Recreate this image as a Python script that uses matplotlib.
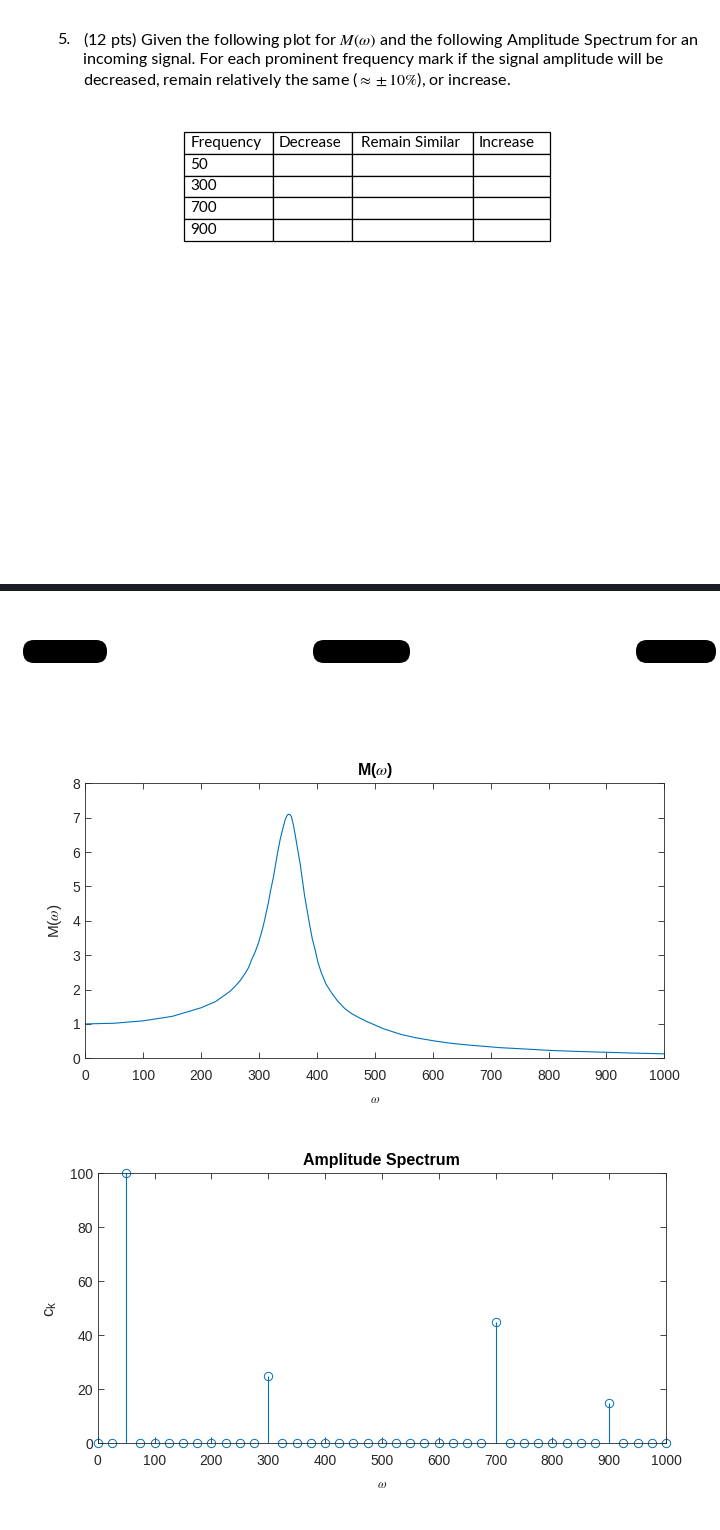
import matplotlib

matplotlib.use("Agg")
import matplotlib.pyplot as plt
from matplotlib.patches import FancyBboxPatch, Rectangle

# --- question text and table ---
question_lines = [
    "(12 pts) Given the following plot for $M(\\omega)$ and the following Amplitude Spectrum for an",
    "incoming signal. For each prominent frequency mark if the signal amplitude will be",
    "decreased, remain relatively the same ($\\approx \\pm 10\\%$), or increase.",
]
table_header = ["Frequency", "Decrease", "Remain Similar", "Increase"]
table_freqs = ["50", "300", "700", "900"]

# --- M(omega) curve ---
omega_m = [0, 50, 100, 150, 200, 225, 241, 250, 258, 267, 276, 282, 287, 293,
           299, 303, 307, 311, 316, 320, 325, 329, 333, 337, 342, 345, 348,
           350, 352, 354, 356, 359, 362, 366, 371, 375, 379, 384, 388, 392,
           397, 402, 408, 416, 426, 436, 448, 460, 474, 486, 500, 515, 544,
           570, 601, 630, 659, 716, 760, 802, 850, 889, 950, 1000]
m_vals = [1.00, 1.02, 1.09, 1.22, 1.47, 1.65, 1.84, 1.95, 2.08, 2.25, 2.47,
          2.64, 2.86, 3.08, 3.35, 3.58, 3.83, 4.12, 4.51, 4.88, 5.28, 5.68,
          6.06, 6.40, 6.74, 6.93, 7.05, 7.09, 7.10, 7.08, 7.03, 6.82, 6.55,
          6.15, 5.67, 5.18, 4.70, 4.22, 3.83, 3.48, 3.15, 2.78, 2.47, 2.15,
          1.89, 1.66, 1.45, 1.30, 1.17, 1.07, 0.97, 0.86, 0.70, 0.60, 0.51,
          0.44, 0.39, 0.31, 0.27, 0.23, 0.20, 0.18, 0.15, 0.13]

# --- amplitude spectrum ---
spec_omega = [0, 25, 50, 75, 100, 125, 150, 175, 200, 225, 250, 275, 300,
              325, 350, 375, 400, 425, 450, 475, 500, 525, 550, 575, 600,
              625, 650, 675, 700, 725, 750, 775, 800, 825, 850, 875, 900,
              925, 950, 975, 1000]
spec_ck = [0, 0, 100, 0, 0, 0, 0, 0, 0, 0, 0, 0, 25,
           0, 0, 0, 0, 0, 0, 0, 0, 0, 0, 0, 0,
           0, 0, 0, 45, 0, 0, 0, 0, 0, 0, 0, 15,
           0, 0, 0, 0]

W, H = 720, 1530
BLUE = "#0072BD"
AXC = "#262626"

plt.rcParams["font.family"] = ["Liberation Sans", "DejaVu Sans"]
plt.rcParams["mathtext.fontset"] = "stix"

fig = plt.figure(figsize=(W / 100, H / 100), dpi=100)

# background layer in pixel coordinates
bg = fig.add_axes([0, 0, 1, 1])
bg.set_xlim(0, W)
bg.set_ylim(H, 0)
bg.axis("off")

doc_font = ["Lato", "DejaVu Sans"]
fig.text(57 / W, 1 - 40 / H, "5.", fontsize=11.6, family=doc_font, va="center")
for i, line in enumerate(question_lines):
    fig.text(83 / W, 1 - (40 + 20 * i) / H, line, fontsize=11.6,
             family=doc_font, va="center", color="black")

# table
tx0, tx1, ty0, ty1 = 184, 550, 132, 241
col_w = [88.7, 79.6, 121.0, 76.7]
tax = fig.add_axes([tx0 / W, 1 - ty1 / H, (tx1 - tx0) / W, (ty1 - ty0) / H])
tax.axis("off")
cells = [[f, "", "", ""] for f in table_freqs]
tbl = tax.table(cellText=cells, colLabels=table_header, cellLoc="left",
                colLoc="left", colWidths=[c / sum(col_w) for c in col_w],
                bbox=[0, 0, 1, 1])
tbl.auto_set_font_size(False)
for (r, c), cell in tbl.get_celld().items():
    cell.set_linewidth(0.9)
    cell.set_edgecolor("black")
    cell.PAD = 0.07
    txt = cell.get_text()
    txt.set_fontsize(11)
    txt.set_fontfamily(doc_font)
    txt.set_va("center")
    x, y = txt.get_position()

# divider bar and redaction blobs
bg.add_patch(Rectangle((0, 584), W, 7, color="#1a1d24", lw=0))
for x0, x1 in [(23, 107), (313, 410), (636, 716)]:
    bg.add_patch(FancyBboxPatch((x0, 640), x1 - x0, 23,
                                boxstyle="round,pad=0,rounding_size=11",
                                fc="black", ec="black", lw=0))


def style_axes(ax):
    for s in ax.spines.values():
        s.set_color(AXC)
        s.set_linewidth(0.6)
    ax.tick_params(direction="in", top=True, right=True, length=4.2,
                   width=0.6, color=AXC, labelcolor=AXC, labelsize=10)
    ax.tick_params(axis="x", pad=7.5)
    ax.tick_params(axis="y", pad=3.5)


# M(omega) plot
ax1 = fig.add_axes([85.3 / W, 1 - 1058.3 / H, 579 / W, 275 / H])
ax1.plot(omega_m, m_vals, color=BLUE, lw=0.8)
ax1.set_xlim(0, 1000)
ax1.set_ylim(0, 8)
ax1.set_xticks(range(0, 1001, 100))
ax1.set_yticks(range(0, 9))
style_axes(ax1)
ax1.set_title("M($\\omega$)", fontsize=11.5, fontweight="bold", pad=6)
ax1.set_xlabel("$\\omega$", fontsize=9, color=AXC, labelpad=8)
ax1.set_ylabel("M($\\omega$)", fontsize=11, color=AXC, labelpad=6)

# amplitude spectrum
ax2 = fig.add_axes([97.7 / W, 1 - 1443.3 / H, 568.3 / W, 270 / H])
markers, stems, base = ax2.stem(spec_omega, spec_ck, basefmt=" ")
stems.set_color(BLUE)
stems.set_linewidth(0.8)
markers.set_markerfacecolor("none")
markers.set_markeredgecolor(BLUE)
markers.set_markersize(6)
markers.set_markeredgewidth(0.7)
markers.set_clip_on(False)
ax2.set_xlim(0, 1000)
ax2.set_ylim(0, 100)
ax2.set_xticks(range(0, 1001, 100))
ax2.set_yticks(range(0, 101, 20))
style_axes(ax2)
ax2.set_title("Amplitude Spectrum", fontsize=11.5, fontweight="bold", pad=6)
ax2.set_xlabel("$\\omega$", fontsize=9, color=AXC, labelpad=8)
ax2.set_ylabel("c$_\\mathregular{k}$", fontsize=12, color=AXC, labelpad=8)

fig.savefig("out.png", dpi=100)
